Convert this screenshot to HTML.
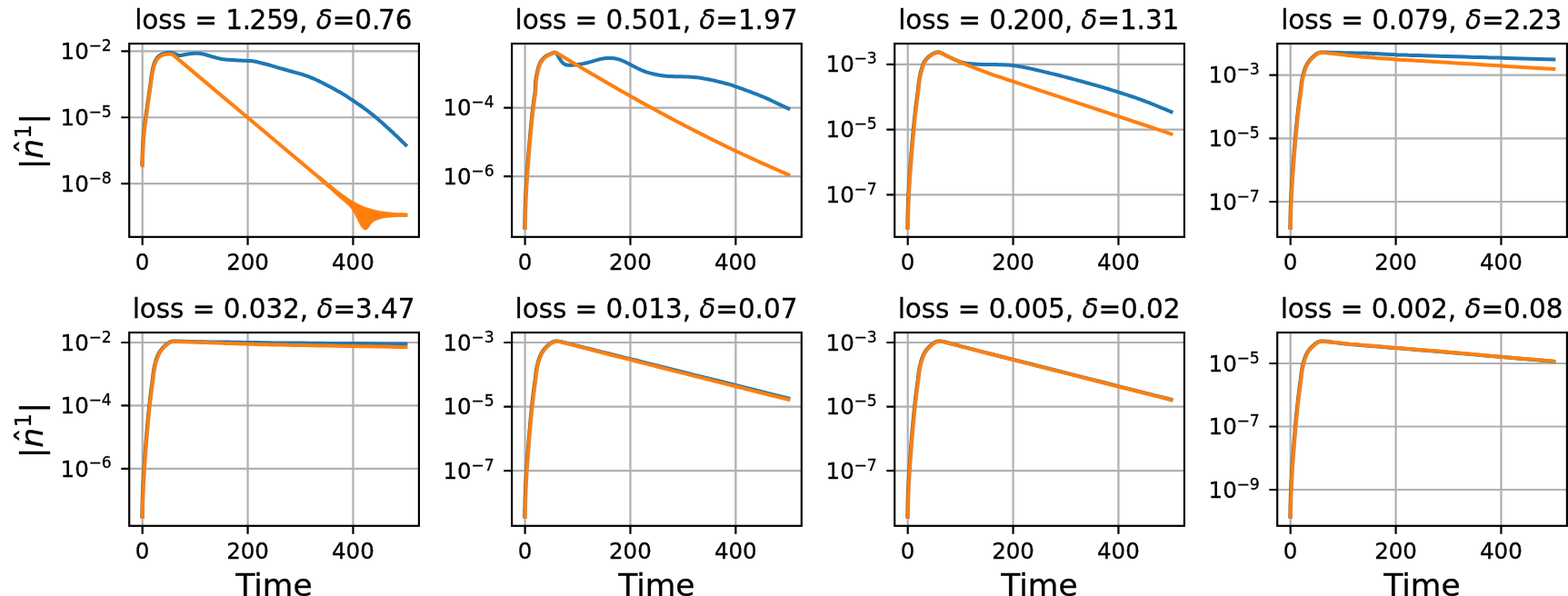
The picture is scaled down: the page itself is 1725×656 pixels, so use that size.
<!DOCTYPE html><html><head><meta charset="utf-8"><title>loss curves</title>
<style>html,body{margin:0;padding:0;background:#fff}svg{display:block}text{font-family:"DejaVu Sans","Liberation Sans",sans-serif;fill:#000;stroke:#000;stroke-width:0.3px}.t{font-size:24.5px}.s{font-size:17.2px}.ti{font-size:29.5px}.l{font-size:34.5px}.i{font-style:oblique}</style></head><body>
<svg width="1725" height="656" viewBox="0 0 1725 656">
<rect width="1725" height="656" fill="#fff"/>
<g>
<clipPath id="c0"><rect x="142.20" y="48.00" width="318.70" height="212.80"/></clipPath>
<path d="M156.69 48.00V260.80M272.57 48.00V260.80M388.45 48.00V260.80M142.20 56.30H460.90M142.20 129.25H460.90M142.20 202.20H460.90" stroke="#b0b0b0" stroke-width="2.2" fill="none"/>
<path d="M156.3 180.5L156.3 179.8L156.3 179.2L156.4 178.5L156.4 177.8L156.4 177.2L156.4 176.5L156.5 175.8L156.5 175.0L156.5 173.9L156.6 172.7L156.6 171.4L156.7 170.2L156.7 168.8L156.8 167.5L156.8 166.2L156.8 165.0L156.9 163.8L156.9 162.7L157.0 161.6L157.1 160.4L157.1 159.3L157.2 158.2L157.2 157.1L157.3 156.0L157.4 155.0L157.4 154.0L157.5 153.0L157.6 152.0L157.7 151.0L157.7 150.0L157.8 149.0L157.9 148.0L158.0 147.0L158.1 146.0L158.2 145.1L158.3 144.1L158.4 143.1L158.5 142.1L158.6 141.1L158.8 140.0L158.9 138.7L159.1 137.4L159.2 136.1L159.4 134.8L159.6 133.4L159.8 132.0L160.0 130.6L160.2 129.1L160.5 127.1L160.8 125.0L161.1 122.8L161.4 120.6L161.7 118.4L162.0 116.2L162.3 114.0L162.6 112.0L162.8 110.4L163.1 108.8L163.3 107.3L163.5 105.8L163.7 104.4L163.9 102.9L164.1 101.5L164.3 100.0L164.5 98.6L164.7 97.3L164.9 95.9L165.1 94.6L165.3 93.2L165.5 91.9L165.7 90.6L165.8 89.3L166.0 88.1L166.2 86.8L166.3 85.6L166.5 84.4L166.7 83.2L166.8 82.0L167.0 80.8L167.2 79.7L167.4 78.7L167.6 77.6L167.8 76.6L168.0 75.6L168.2 74.6L168.5 73.7L168.7 72.7L169.0 71.8L169.2 71.0L169.5 70.2L169.8 69.5L170.0 68.7L170.3 68.0L170.6 67.3L170.9 66.7L171.3 66.0L171.6 65.4L172.0 64.9L172.4 64.3L172.8 63.8L173.2 63.3L173.6 62.9L174.0 62.4L174.5 62.0L174.9 61.6L175.4 61.3L175.9 61.0L176.4 60.6L176.9 60.4L177.4 60.1L178.0 59.8L178.5 59.6L179.0 59.4L179.6 59.2L180.2 59.0L180.8 58.8L181.3 58.7L181.9 58.5L182.5 58.4L183.0 58.3L183.5 58.2L183.9 58.1L184.4 58.1L184.8 58.0L185.3 58.0L185.7 58.0L186.1 57.9L186.5 57.9L186.8 57.9L187.0 57.9L187.2 57.9L187.5 57.9L187.7 57.9L187.9 57.9L188.2 57.9L188.4 57.9L188.7 57.9L188.9 58.0L189.2 58.0L189.5 58.1L189.7 58.2L190.0 58.2L190.2 58.3L190.5 58.4L190.7 58.5L191.0 58.6L191.2 58.7L191.4 58.8L191.6 58.9L191.8 59.0L192.1 59.1L192.3 59.2L192.6 59.3L192.8 59.5L193.1 59.6L193.4 59.7L193.7 59.8L193.9 60.0L194.2 60.1L194.5 60.2L194.8 60.3L195.1 60.4L195.5 60.6L195.8 60.7L196.1 60.8L196.4 60.9L196.8 61.0L197.1 61.0L197.4 61.0L197.7 61.0L198.0 61.0L198.3 61.0L198.6 61.0L198.9 61.0L199.2 60.9L199.5 60.9L199.8 60.9L200.1 60.8L200.4 60.7L200.7 60.7L201.0 60.6L201.3 60.5L201.6 60.5L201.9 60.4L202.3 60.3L202.8 60.2L203.3 60.1L203.8 60.0L204.3 60.0L204.8 59.9L205.3 59.8L205.8 59.7L206.3 59.6L206.8 59.5L207.3 59.5L207.8 59.4L208.3 59.3L208.8 59.2L209.3 59.2L209.8 59.1L210.3 59.0L210.8 59.0L211.3 58.9L211.8 58.9L212.3 58.9L212.8 58.8L213.3 58.8L213.8 58.8L214.3 58.7L214.8 58.7L215.3 58.7L215.8 58.7L216.3 58.7L216.8 58.7L217.2 58.7L217.7 58.7L218.1 58.7L218.4 58.7L218.8 58.8L219.1 58.8L219.5 58.8L219.8 58.9L220.2 58.9L220.5 59.0L220.8 59.0L221.2 59.1L221.5 59.1L221.9 59.2L222.2 59.3L222.6 59.3L222.9 59.4L223.3 59.5L223.7 59.6L224.2 59.7L224.6 59.8L225.0 59.9L225.5 60.0L225.9 60.2L226.4 60.3L226.8 60.4L227.2 60.5L227.7 60.7L228.2 60.8L228.6 60.9L229.1 61.1L229.5 61.2L229.9 61.4L230.4 61.5L230.8 61.6L231.3 61.8L231.8 61.9L232.2 62.0L232.7 62.2L233.1 62.3L233.6 62.4L234.0 62.5L234.4 62.7L234.9 62.8L235.3 62.9L235.8 63.0L236.2 63.1L236.7 63.3L237.2 63.4L237.6 63.5L238.1 63.6L238.5 63.7L238.9 63.9L239.4 64.0L239.8 64.1L240.3 64.2L240.8 64.3L241.2 64.4L241.6 64.5L242.1 64.6L242.5 64.7L242.9 64.8L243.4 64.9L243.8 65.0L244.2 65.0L244.7 65.1L245.2 65.2L245.7 65.2L246.3 65.3L246.8 65.4L247.4 65.4L247.9 65.5L248.4 65.5L249.0 65.6L249.6 65.7L250.1 65.7L250.6 65.7L251.2 65.8L251.7 65.8L252.3 65.8L252.9 65.9L253.5 65.9L254.4 66.0L255.3 66.0L256.3 66.1L257.3 66.2L258.3 66.2L259.4 66.3L260.4 66.3L261.4 66.4L262.4 66.5L263.4 66.5L264.4 66.6L265.4 66.6L266.4 66.7L267.4 66.7L268.4 66.8L269.3 66.8L270.1 66.8L271.0 66.8L271.8 66.9L272.6 66.9L273.4 66.9L274.1 66.9L274.9 66.9L275.7 67.0L276.4 67.1L277.1 67.1L277.8 67.2L278.4 67.3L279.1 67.4L279.8 67.5L280.5 67.7L281.2 67.8L282.1 68.0L283.1 68.2L284.1 68.5L285.1 68.7L286.1 69.0L287.2 69.3L288.2 69.5L289.2 69.8L290.2 70.0L291.2 70.3L292.2 70.5L293.2 70.8L294.1 71.0L295.1 71.3L296.1 71.5L297.1 71.8L298.1 72.1L299.0 72.4L300.0 72.7L300.9 73.0L301.9 73.2L302.9 73.6L303.9 73.9L305.0 74.2L306.5 74.6L308.1 75.1L309.7 75.5L311.4 76.0L313.1 76.5L314.8 77.0L316.6 77.5L318.3 78.0L320.3 78.5L322.4 79.1L324.5 79.7L326.6 80.3L328.7 80.8L330.8 81.4L332.8 82.0L334.6 82.6L335.9 83.0L337.2 83.5L338.4 83.9L339.6 84.4L340.8 84.8L342.0 85.3L343.2 85.8L344.4 86.3L345.8 86.9L347.2 87.5L348.6 88.2L350.1 88.9L351.5 89.6L352.9 90.3L354.4 91.0L355.8 91.7L357.2 92.4L358.7 93.2L360.1 93.9L361.6 94.7L363.0 95.5L364.4 96.2L365.9 97.0L367.3 97.8L368.7 98.6L370.2 99.4L371.6 100.2L373.1 101.0L374.5 101.8L375.9 102.6L377.3 103.5L378.7 104.3L380.0 105.1L381.2 105.9L382.4 106.7L383.6 107.5L384.8 108.3L386.0 109.1L387.2 110.0L388.5 110.8L389.9 111.7L391.3 112.7L392.7 113.6L394.1 114.6L395.6 115.5L397.0 116.5L398.4 117.5L399.9 118.6L401.5 119.8L403.1 121.0L404.7 122.2L406.4 123.5L408.0 124.8L409.7 126.1L411.3 127.4L412.9 128.7L414.6 130.1L416.2 131.5L417.8 132.9L419.4 134.3L421.1 135.7L422.7 137.2L424.3 138.7L426.0 140.2L427.9 141.9L429.8 143.7L431.8 145.5L433.7 147.4L435.7 149.2L437.5 150.9L439.2 152.6L440.7 154.0L441.5 154.8L442.3 155.6L443.0 156.3L443.7 156.9L444.4 157.6L445.0 158.3L445.7 158.9L446.4 159.6" stroke="#1f77b4" stroke-width="4.0" fill="none" stroke-linejoin="round" stroke-linecap="square" clip-path="url(#c0)"/>
<path d="M156.8 182.3L156.8 181.4L156.8 180.5L156.9 179.6L156.9 178.7L156.9 177.8L156.9 176.9L157.0 176.0L157.0 175.0L157.0 173.8L157.1 172.6L157.1 171.3L157.2 170.1L157.2 168.8L157.3 167.5L157.3 166.2L157.4 165.0L157.5 163.8L157.5 162.7L157.6 161.6L157.6 160.4L157.7 159.3L157.8 158.2L157.8 157.1L157.9 156.0L158.0 155.0L158.0 154.0L158.1 153.0L158.2 152.0L158.2 151.0L158.3 150.0L158.4 149.0L158.5 148.0L158.6 147.0L158.7 146.0L158.8 145.1L158.9 144.1L159.0 143.1L159.1 142.1L159.2 141.1L159.3 140.0L159.5 138.7L159.7 137.4L159.8 136.1L160.0 134.8L160.2 133.4L160.4 132.0L160.6 130.6L160.8 129.1L161.1 127.1L161.4 125.0L161.7 122.8L162.0 120.6L162.3 118.4L162.6 116.2L162.9 114.0L163.2 112.0L163.4 110.4L163.7 108.8L163.9 107.3L164.1 105.8L164.3 104.4L164.5 102.9L164.7 101.5L164.9 100.0L165.1 98.6L165.3 97.3L165.5 95.9L165.7 94.6L165.9 93.2L166.1 91.9L166.3 90.6L166.4 89.3L166.6 88.1L166.8 86.8L167.0 85.6L167.1 84.4L167.3 83.2L167.5 82.0L167.7 80.8L167.9 79.7L168.1 78.7L168.3 77.6L168.5 76.6L168.8 75.6L169.0 74.6L169.2 73.6L169.5 72.7L169.8 71.8L170.1 71.0L170.3 70.3L170.6 69.6L170.9 68.9L171.2 68.2L171.5 67.5L171.8 66.9L172.2 66.3L172.6 65.8L172.9 65.3L173.3 64.8L173.7 64.3L174.1 63.9L174.5 63.5L174.9 63.1L175.4 62.7L175.8 62.4L176.3 62.0L176.8 61.7L177.3 61.4L177.8 61.2L178.3 60.9L178.9 60.7L179.4 60.5L180.0 60.3L180.5 60.2L181.1 60.1L181.7 60.0L182.3 59.9L182.9 59.8L183.5 59.8L184.1 59.7L184.6 59.7L185.1 59.6L185.6 59.6L186.1 59.6L186.6 59.6L187.0 59.6L187.5 59.6L188.0 59.5L189.4 59.7L190.3 60.2L191.0 60.9L361.5 204.3L380.4 220.2L380.4 220.2L381.4 221.0L382.3 221.7L383.3 222.5L384.2 223.3L385.2 224.0L386.1 224.8L387.1 225.5L388.0 226.2L388.8 226.8L389.6 227.4L390.4 227.9L391.2 228.5L392.1 229.0L392.9 229.5L393.7 230.0L394.5 230.5L395.3 230.9L396.1 231.4L396.9 231.8L397.7 232.2L398.5 232.5L399.4 232.9L400.2 233.2L401.1 233.5L402.1 233.8L403.2 234.0L404.3 234.2L405.4 234.4L406.6 234.6L407.7 234.7L408.9 234.9L410.0 235.0L411.2 235.2L412.5 235.3L413.7 235.4L415.0 235.5L416.2 235.6L417.5 235.7L418.7 235.8L420.0 235.9L421.2 236.0L422.5 236.0L423.8 236.1L425.0 236.1L426.2 236.2L427.5 236.2L428.8 236.3L430.0 236.3L431.3 236.3L432.6 236.4L433.9 236.4L435.1 236.4L436.4 236.4L437.7 236.5L438.9 236.5L440.0 236.5L440.9 236.5L441.7 236.5L442.5 236.6L443.3 236.6L444.1 236.6L444.8 236.6L445.6 236.6L446.4 236.7" stroke="#ff7f0e" stroke-width="4.0" fill="none" stroke-linejoin="round" stroke-linecap="square" clip-path="url(#c0)"/>
<path d="M352.0 193.7L354.4 195.7L356.7 197.7L359.1 199.7L361.5 201.7L363.8 203.6L366.2 205.5L368.5 207.4L370.9 209.2L373.3 211.0L375.7 212.9L378.1 214.6L380.4 216.3L382.3 217.7L384.2 218.9L386.1 220.2L387.9 221.3L389.6 222.3L391.2 223.1L392.8 224.0L394.5 224.8L396.1 225.6L397.8 226.3L399.4 227.0L401.1 227.7L402.9 228.4L404.8 229.0L406.7 229.6L408.7 230.2L411.0 230.8L413.4 231.4L415.8 231.9L418.2 232.4L420.5 232.8L422.9 233.1L425.2 233.3L427.6 233.6L430.0 233.9L432.3 234.2L434.7 234.4L437.1 234.6L439.8 234.7L442.5 234.8L445.3 234.9L448.0 235.0L448.0 238.4L445.3 238.4L442.5 238.5L439.8 238.5L437.1 238.6L434.7 238.7L432.2 238.9L429.9 239.1L427.6 239.3L425.6 239.5L423.7 239.8L421.9 240.0L420.1 240.4L418.6 240.8L417.1 241.3L415.7 241.8L414.4 242.3L413.4 242.7L412.4 243.2L411.5 243.6L410.6 244.2L409.8 244.8L409.1 245.5L408.5 246.2L407.8 247.0L407.1 248.1L406.4 249.2L405.7 250.4L404.9 251.3L404.1 251.9L403.3 252.5L402.4 252.9L401.6 253.0L400.7 252.8L399.9 252.3L399.1 251.6L398.3 250.8L397.5 249.8L396.8 248.6L396.2 247.4L395.5 246.1L394.8 244.7L394.0 243.3L393.3 241.8L392.6 240.4L391.9 239.0L391.2 237.6L390.6 236.2L389.8 234.8L388.9 233.4L388.0 231.9L387.1 230.5L386.0 229.1L384.8 227.7L383.4 226.3L382.0 224.9L380.4 223.4L378.2 221.5L375.8 219.5L373.3 217.5L370.9 215.4L368.5 213.3L366.2 211.2L363.9 209.0L361.5 206.9L359.1 204.9L356.8 202.9L354.4 200.9L352.0 198.9Z" fill="#ff7f0e" stroke="#ff7f0e" stroke-width="0.6" stroke-linejoin="round" clip-path="url(#c0)"/>
<path d="M156.69 260.80v8.90M272.57 260.80v8.90M388.45 260.80v8.90M142.20 56.30h-8.90M142.20 129.25h-8.90M142.20 202.20h-8.90" stroke="#000" stroke-width="2.2" fill="none"/>
<rect x="142.20" y="48.00" width="318.70" height="212.80" fill="none" stroke="#000" stroke-width="2.2"/>
<text class="t" x="156.64" y="296.85" text-anchor="middle">0</text>
<text class="t" x="272.52" y="296.85" text-anchor="middle">200</text>
<text class="t" x="388.40" y="296.85" text-anchor="middle">400</text>
<text class="t" x="66.60" y="64.90">10</text>
<text class="s" x="97.40" y="55.80">−2</text>
<text class="t" x="66.60" y="137.85">10</text>
<text class="s" x="97.40" y="128.75">−5</text>
<text class="t" x="66.60" y="210.80">10</text>
<text class="s" x="97.40" y="201.70">−8</text>
<text class="ti" y="31.50" xml:space="preserve"><tspan x="148.13 156.29 174.26 189.57 204.87 214.21 238.82 248.16 266.85 274.56 293.25 310.32 329.00 338.34">loss = 1.259, </tspan><tspan class="i" x="347.68">δ</tspan><tspan x="365.65 390.26 408.95 416.04 434.73">=0.76</tspan></text>
<g transform="translate(46.55 186.20) rotate(-90)"><text class="l" y="0"><tspan x="0">|</tspan><tspan class="i" x="11.55">n</tspan><tspan x="33.6" y="-12.35" style="font-size:24.2px">1</tspan><tspan x="49.8" y="0">|</tspan></text><text class="l" x="16.1" y="-4.3">ˆ</text></g>
</g>
<g>
<clipPath id="c1"><rect x="563.10" y="48.00" width="318.70" height="212.80"/></clipPath>
<path d="M577.59 48.00V260.80M693.47 48.00V260.80M809.35 48.00V260.80M563.10 118.60H881.80M563.10 194.20H881.80" stroke="#b0b0b0" stroke-width="2.2" fill="none"/>
<path d="M577.2 250.6L577.2 248.7L577.3 246.8L577.3 244.9L577.3 243.0L577.4 241.1L577.4 239.2L577.5 237.3L577.5 235.4L577.5 233.4L577.6 231.5L577.7 229.5L577.7 227.5L577.8 225.5L577.9 223.6L578.0 221.6L578.0 219.6L578.1 217.6L578.2 215.6L578.3 213.6L578.5 211.6L578.6 209.6L578.7 207.6L578.8 205.6L578.9 203.7L579.0 202.0L579.1 200.3L579.2 198.6L579.3 196.9L579.4 195.2L579.5 193.7L579.6 192.1L579.8 190.7L579.8 189.7L579.9 188.8L580.0 187.9L580.0 187.1L580.1 186.2L580.1 185.4L580.2 184.4L580.3 183.4L580.4 181.7L580.6 179.9L580.7 177.9L580.9 175.9L581.0 173.8L581.2 171.7L581.3 169.6L581.5 167.6L581.7 165.6L581.8 163.6L582.0 161.6L582.2 159.5L582.3 157.5L582.5 155.5L582.7 153.6L582.9 151.7L583.0 150.1L583.1 148.5L583.3 146.9L583.4 145.3L583.6 143.8L583.7 142.3L583.9 140.8L584.0 139.4L584.1 138.1L584.2 136.9L584.4 135.7L584.5 134.5L584.6 133.3L584.7 132.1L584.8 131.0L585.0 129.9L585.0 129.1L585.1 128.3L585.2 127.5L585.3 126.7L585.4 126.0L585.5 125.2L585.5 124.4L585.6 123.5L585.8 122.2L586.0 120.8L586.1 119.3L586.3 117.8L586.5 116.2L586.7 114.7L586.9 113.1L587.1 111.6L587.3 110.1L587.5 108.6L587.7 107.1L588.0 105.6L588.2 104.1L588.4 102.7L588.6 101.2L588.7 99.8L588.8 98.6L588.8 97.4L588.9 96.2L588.9 95.1L588.9 94.0L589.0 92.8L589.0 91.7L589.1 90.6L589.2 89.6L589.3 88.5L589.5 87.5L589.6 86.5L589.8 85.5L590.0 84.5L590.1 83.6L590.3 82.6L590.5 81.7L590.7 80.8L590.8 79.9L591.0 79.0L591.2 78.1L591.5 77.2L591.7 76.3L591.9 75.5L592.1 74.8L592.3 74.0L592.5 73.3L592.8 72.6L593.0 71.9L593.2 71.2L593.5 70.5L593.8 69.9L594.1 69.3L594.4 68.7L594.8 68.2L595.1 67.6L595.5 67.1L595.8 66.6L596.2 66.1L596.6 65.6L597.0 65.2L597.3 64.7L597.7 64.3L598.1 63.9L598.5 63.5L598.9 63.1L599.4 62.8L599.8 62.4L600.3 62.0L600.7 61.7L601.2 61.4L601.8 61.1L602.3 60.8L602.8 60.5L603.3 60.3L603.8 60.0L604.3 59.8L604.8 59.5L605.3 59.4L605.7 59.2L606.2 59.0L606.7 58.8L607.2 58.6L607.7 58.4L609.3 58.0L609.5 57.9L609.6 57.9L609.8 57.8L610.0 57.7L610.2 57.7L610.4 57.6L610.5 57.6L610.7 57.6L610.9 57.6L611.1 57.7L611.3 57.8L611.5 57.9L611.6 58.1L611.8 58.2L612.0 58.4L612.2 58.6L612.5 59.0L612.8 59.5L613.1 60.0L613.4 60.6L613.7 61.3L614.0 61.9L614.4 62.5L614.7 63.1L615.1 63.7L615.5 64.3L615.8 64.9L616.2 65.5L616.6 66.2L617.0 66.7L617.5 67.3L617.9 67.8L618.3 68.2L618.6 68.6L619.0 69.0L619.4 69.4L619.7 69.7L620.1 70.0L620.5 70.3L621.0 70.6L621.5 70.8L622.1 71.1L622.7 71.3L623.3 71.4L623.9 71.5L624.5 71.7L625.1 71.7L625.8 71.8L626.5 71.8L627.3 71.8L628.1 71.8L628.9 71.7L629.7 71.7L630.5 71.6L631.3 71.5L632.1 71.4L632.9 71.3L633.7 71.2L634.5 71.2L635.3 71.1L636.0 71.0L636.9 70.8L637.7 70.7L638.5 70.6L639.5 70.4L640.4 70.3L641.4 70.1L642.4 69.9L643.4 69.7L644.4 69.5L645.4 69.2L646.4 69.0L647.4 68.7L648.4 68.5L649.4 68.2L650.4 67.9L651.4 67.6L652.4 67.3L653.4 67.0L654.4 66.7L655.4 66.4L656.4 66.2L657.4 65.9L658.3 65.6L659.3 65.3L660.3 65.1L661.3 64.9L662.3 64.7L663.3 64.5L664.3 64.4L665.2 64.2L666.2 64.1L667.2 64.0L668.2 64.0L669.2 63.9L670.2 63.9L671.2 63.9L672.2 63.9L673.2 64.0L674.2 64.1L675.2 64.2L676.2 64.3L677.2 64.5L678.2 64.7L679.2 64.9L680.2 65.2L681.2 65.5L682.2 65.9L683.2 66.2L684.1 66.6L685.1 67.0L686.1 67.4L687.1 67.8L688.1 68.3L689.0 68.8L690.0 69.3L691.0 69.8L691.9 70.3L693.0 70.9L694.0 71.4L695.3 72.1L696.7 72.8L698.1 73.5L699.6 74.3L701.0 75.0L702.5 75.7L703.9 76.4L705.2 77.0L706.2 77.4L707.2 77.8L708.2 78.2L709.2 78.6L710.1 78.9L711.1 79.3L712.1 79.6L713.1 79.9L714.3 80.2L715.5 80.6L716.8 80.9L718.0 81.2L719.3 81.5L720.6 81.8L721.8 82.0L723.0 82.3L724.0 82.5L725.1 82.7L726.1 82.9L727.1 83.0L728.0 83.2L729.1 83.3L730.1 83.5L731.2 83.6L732.5 83.7L733.9 83.8L735.3 83.9L736.7 84.0L738.2 84.0L739.6 84.1L741.1 84.2L742.6 84.2L744.2 84.2L745.8 84.3L747.4 84.3L749.0 84.3L750.7 84.3L752.3 84.4L754.0 84.4L755.6 84.5L757.2 84.6L758.9 84.7L760.5 84.8L762.2 84.9L763.9 85.0L765.5 85.2L767.1 85.3L768.7 85.5L770.2 85.7L771.6 85.9L773.0 86.2L774.5 86.4L775.9 86.7L777.3 86.9L778.7 87.2L780.1 87.5L781.5 87.8L782.9 88.1L784.4 88.4L785.8 88.7L787.2 89.0L788.6 89.4L790.0 89.7L791.5 90.1L793.1 90.5L794.7 90.9L796.4 91.3L798.0 91.8L799.7 92.2L801.3 92.7L803.0 93.2L804.6 93.7L806.2 94.2L807.9 94.8L809.5 95.3L811.1 95.9L812.7 96.5L814.4 97.0L816.0 97.6L817.6 98.2L819.2 98.8L820.9 99.4L822.5 100.0L824.2 100.6L825.8 101.2L827.4 101.8L829.1 102.5L830.7 103.1L832.3 103.7L834.0 104.4L835.6 105.0L837.2 105.7L838.8 106.3L840.5 107.0L842.1 107.7L843.7 108.4L845.4 109.1L847.0 109.9L848.7 110.7L850.3 111.5L852.0 112.3L853.6 113.1L855.2 113.8L856.8 114.6L858.2 115.2L859.5 115.9L860.9 116.5L862.2 117.1L863.5 117.8L864.8 118.4L866.1 119.0L867.4 119.6" stroke="#1f77b4" stroke-width="4.0" fill="none" stroke-linejoin="round" stroke-linecap="square" clip-path="url(#c1)"/>
<path d="M577.8 250.9L577.8 249.0L577.9 247.1L577.9 245.2L577.9 243.3L578.0 241.4L578.0 239.5L578.0 237.6L578.1 235.7L578.1 233.7L578.2 231.8L578.3 229.8L578.3 227.8L578.4 225.8L578.5 223.9L578.6 221.9L578.6 219.9L578.7 217.9L578.8 215.9L578.9 213.9L579.0 211.8L579.2 209.8L579.3 207.9L579.4 205.9L579.5 204.0L579.6 202.3L579.7 200.6L579.8 198.9L579.9 197.2L580.0 195.5L580.1 194.0L580.2 192.4L580.4 191.0L580.4 190.0L580.5 189.1L580.5 188.2L580.6 187.4L580.7 186.6L580.8 185.7L580.8 184.7L580.9 183.7L581.0 182.0L581.2 180.2L581.3 178.2L581.5 176.2L581.6 174.1L581.8 172.0L581.9 169.9L582.1 167.9L582.3 165.9L582.4 163.9L582.6 161.8L582.8 159.8L582.9 157.8L583.1 155.8L583.3 153.9L583.5 152.0L583.6 150.4L583.7 148.8L583.9 147.2L584.0 145.7L584.2 144.1L584.3 142.6L584.5 141.2L584.6 139.7L584.7 138.4L584.8 137.2L585.0 136.0L585.1 134.8L585.2 133.6L585.3 132.4L585.4 131.3L585.5 130.2L585.6 129.3L585.7 128.6L585.8 127.8L585.9 127.0L586.0 126.3L586.1 125.5L586.1 124.7L586.2 123.8L586.4 122.5L586.6 121.1L586.8 119.6L586.9 118.1L587.1 116.5L587.3 115.0L587.5 113.4L587.7 111.9L587.9 110.4L588.1 108.9L588.3 107.4L588.6 105.9L588.8 104.4L589.0 103.0L589.2 101.5L589.3 100.1L589.4 98.9L589.4 97.7L589.5 96.5L589.5 95.4L589.5 94.2L589.6 93.1L589.6 92.0L589.7 90.9L589.8 89.9L589.9 88.8L590.1 87.8L590.2 86.8L590.4 85.8L590.5 84.8L590.7 83.9L590.9 82.9L591.1 82.0L591.3 81.1L591.4 80.2L591.6 79.3L591.8 78.4L592.0 77.5L592.3 76.6L592.5 75.8L592.7 75.1L592.9 74.3L593.1 73.6L593.4 72.9L593.6 72.2L593.8 71.5L594.1 70.8L594.4 70.2L594.7 69.6L595.0 69.0L595.4 68.5L595.7 67.9L596.1 67.4L596.4 66.9L596.8 66.4L597.2 65.9L597.6 65.5L597.9 65.0L598.3 64.6L598.7 64.2L599.1 63.8L599.5 63.4L600.0 63.0L600.4 62.7L600.9 62.4L601.3 62.0L601.8 61.7L602.4 61.4L602.9 61.1L603.4 60.8L603.9 60.6L604.4 60.3L604.9 60.1L605.4 59.9L605.9 59.6L606.3 59.5L606.8 59.3L607.3 59.1L607.8 58.9L608.3 58.7L610.2 58.2L611.6 58.0L612.8 58.3L614.3 59.4L616.3 60.5L622.3 64.2L628.3 67.8L634.3 71.4L640.3 74.9L646.3 78.5L652.3 82.0L658.3 85.5L664.3 89.0L670.3 92.5L676.3 95.9L682.3 99.4L688.3 102.8L694.3 106.2L700.3 109.5L706.3 112.9L712.3 116.2L718.3 119.5L724.3 122.7L730.3 126.0L736.3 129.2L742.3 132.4L748.3 135.6L754.3 138.7L760.3 141.8L766.3 144.9L772.3 147.9L778.3 151.0L784.3 154.0L790.3 156.9L796.3 159.9L802.3 162.8L808.3 165.7L814.3 168.5L820.3 171.3L826.3 174.1L832.3 176.8L838.3 179.6L844.3 182.2L850.3 184.9L856.3 187.5L862.3 190.1L867.4 192.3" stroke="#ff7f0e" stroke-width="4.0" fill="none" stroke-linejoin="round" stroke-linecap="square" clip-path="url(#c1)"/>
<path d="M577.59 260.80v8.90M693.47 260.80v8.90M809.35 260.80v8.90M563.10 118.60h-8.90M563.10 194.20h-8.90" stroke="#000" stroke-width="2.2" fill="none"/>
<rect x="563.10" y="48.00" width="318.70" height="212.80" fill="none" stroke="#000" stroke-width="2.2"/>
<text class="t" x="577.54" y="296.85" text-anchor="middle">0</text>
<text class="t" x="693.42" y="296.85" text-anchor="middle">200</text>
<text class="t" x="809.30" y="296.85" text-anchor="middle">400</text>
<text class="t" x="487.50" y="127.20">10</text>
<text class="s" x="518.30" y="118.10">−4</text>
<text class="t" x="487.50" y="202.80">10</text>
<text class="s" x="518.30" y="193.70">−6</text>
<text class="ti" y="31.50" xml:space="preserve"><tspan x="566.53 574.69 592.66 607.97 623.27 632.61 657.22 666.56 685.25 694.59 713.28 731.97 750.65 759.99">loss = 0.501, </tspan><tspan class="i" x="769.33">δ</tspan><tspan x="787.30 811.91 830.60 839.94 858.63">=1.97</tspan></text>
</g>
<g>
<clipPath id="c2"><rect x="984.20" y="48.00" width="318.70" height="212.80"/></clipPath>
<path d="M998.69 48.00V260.80M1114.57 48.00V260.80M1230.45 48.00V260.80M984.20 70.85H1302.90M984.20 142.60H1302.90M984.20 214.40H1302.90" stroke="#b0b0b0" stroke-width="2.2" fill="none"/>
<path d="M998.3 250.6L998.3 248.7L998.4 246.8L998.4 244.9L998.4 243.0L998.5 241.1L998.5 239.2L998.5 237.3L998.6 235.4L998.6 233.4L998.7 231.5L998.8 229.5L998.8 227.5L998.9 225.5L999.0 223.6L999.1 221.6L999.1 219.6L999.2 217.6L999.3 215.6L999.4 213.6L999.5 211.6L999.7 209.6L999.8 207.6L999.9 205.6L1000.0 203.7L1000.1 202.0L1000.2 200.3L1000.3 198.6L1000.4 196.9L1000.5 195.2L1000.6 193.7L1000.8 192.1L1000.9 190.7L1000.9 189.7L1001.0 188.8L1001.0 187.9L1001.1 187.1L1001.2 186.2L1001.2 185.4L1001.3 184.4L1001.4 183.4L1001.5 181.7L1001.7 179.9L1001.8 177.9L1002.0 175.9L1002.1 173.8L1002.3 171.7L1002.4 169.6L1002.6 167.6L1002.8 165.6L1002.9 163.6L1003.1 161.6L1003.3 159.5L1003.4 157.5L1003.6 155.5L1003.8 153.6L1004.0 151.7L1004.1 150.1L1004.2 148.5L1004.4 146.9L1004.5 145.3L1004.7 143.8L1004.8 142.3L1005.0 140.8L1005.1 139.4L1005.2 138.1L1005.3 136.9L1005.5 135.7L1005.6 134.5L1005.7 133.3L1005.8 132.1L1005.9 131.0L1006.0 129.9L1006.1 129.1L1006.2 128.3L1006.3 127.5L1006.4 126.7L1006.5 126.0L1006.6 125.2L1006.6 124.4L1006.8 123.5L1006.9 122.2L1007.1 120.8L1007.2 119.3L1007.4 117.8L1007.6 116.2L1007.8 114.7L1008.0 113.1L1008.2 111.6L1008.4 110.1L1008.6 108.6L1008.8 107.1L1009.0 105.6L1009.2 104.1L1009.4 102.7L1009.6 101.2L1009.8 99.8L1009.9 98.6L1010.1 97.4L1010.2 96.2L1010.3 95.1L1010.4 94.0L1010.5 92.8L1010.7 91.7L1010.8 90.6L1010.9 89.6L1011.1 88.5L1011.2 87.5L1011.4 86.5L1011.5 85.5L1011.7 84.5L1011.9 83.6L1012.1 82.6L1012.3 81.7L1012.5 80.8L1012.7 79.9L1013.0 79.0L1013.2 78.1L1013.5 77.2L1013.7 76.4L1014.0 75.5L1014.3 74.7L1014.5 73.8L1014.8 73.0L1015.1 72.2L1015.3 71.4L1015.6 70.6L1016.0 69.8L1016.3 69.1L1016.6 68.5L1016.9 67.9L1017.2 67.4L1017.6 66.8L1017.9 66.3L1018.3 65.8L1018.7 65.3L1019.1 64.8L1019.5 64.3L1020.0 63.8L1020.5 63.3L1021.0 62.9L1021.5 62.4L1022.0 62.0L1022.6 61.6L1023.1 61.2L1023.6 60.9L1024.1 60.5L1024.6 60.2L1025.1 59.9L1025.6 59.6L1026.1 59.3L1026.6 59.0L1027.1 58.8L1027.5 58.6L1027.9 58.5L1028.3 58.3L1028.7 58.1L1029.0 58.0L1029.4 57.9L1029.8 57.7L1030.2 57.6L1032.3 57.4L1033.2 57.3L1034.2 57.8L1039.6 60.4L1040.4 60.8L1041.1 61.2L1041.9 61.6L1042.7 62.0L1043.4 62.4L1044.2 62.8L1045.0 63.2L1045.9 63.6L1047.1 64.1L1048.3 64.7L1049.6 65.3L1051.0 65.9L1052.3 66.5L1053.6 67.0L1054.8 67.5L1056.0 67.9L1056.8 68.2L1057.6 68.4L1058.3 68.6L1059.0 68.8L1059.8 69.0L1060.5 69.2L1061.2 69.3L1062.0 69.5L1062.9 69.7L1063.8 69.8L1064.8 69.9L1065.8 70.0L1066.8 70.1L1067.7 70.2L1068.7 70.2L1069.7 70.3L1070.7 70.4L1071.7 70.5L1072.7 70.5L1073.6 70.6L1074.6 70.7L1075.6 70.7L1076.6 70.8L1077.6 70.8L1078.6 70.8L1079.6 70.9L1080.6 70.9L1081.6 70.9L1082.6 71.0L1083.6 71.0L1084.6 71.0L1085.6 71.0L1086.6 71.0L1087.6 71.0L1088.6 71.0L1089.5 71.0L1090.5 71.1L1091.5 71.1L1092.5 71.1L1093.5 71.1L1094.5 71.1L1095.5 71.1L1096.5 71.1L1097.5 71.2L1098.4 71.2L1099.4 71.2L1100.4 71.2L1101.4 71.2L1102.4 71.3L1103.4 71.3L1104.4 71.3L1105.4 71.4L1106.4 71.4L1107.4 71.5L1108.4 71.5L1109.4 71.6L1110.4 71.7L1111.4 71.8L1112.4 71.8L1113.4 71.9L1114.3 72.0L1115.3 72.2L1116.3 72.3L1117.3 72.4L1118.3 72.5L1119.3 72.7L1120.3 72.9L1121.2 73.0L1122.2 73.2L1123.2 73.4L1124.2 73.6L1125.2 73.8L1126.2 74.0L1127.2 74.2L1128.2 74.4L1129.2 74.6L1130.2 74.8L1131.2 75.0L1132.2 75.2L1133.2 75.4L1134.2 75.6L1135.2 75.8L1136.2 76.1L1137.2 76.3L1138.1 76.5L1139.1 76.7L1140.1 77.0L1141.1 77.2L1142.1 77.4L1143.0 77.7L1144.0 77.9L1145.0 78.1L1145.9 78.4L1146.9 78.6L1148.0 78.8L1149.0 79.1L1150.3 79.4L1151.6 79.7L1153.0 80.0L1154.4 80.4L1155.8 80.7L1157.3 81.1L1158.8 81.4L1160.3 81.8L1162.2 82.3L1164.2 82.8L1166.2 83.3L1168.3 83.8L1170.4 84.4L1172.5 84.9L1174.5 85.5L1176.6 86.0L1178.6 86.5L1180.7 87.1L1182.7 87.6L1184.8 88.2L1186.8 88.7L1188.8 89.3L1190.9 89.8L1192.9 90.4L1195.0 91.0L1197.0 91.5L1199.0 92.1L1201.1 92.7L1203.2 93.2L1205.2 93.8L1207.2 94.4L1209.3 95.0L1211.3 95.6L1213.4 96.2L1215.4 96.8L1217.5 97.4L1219.5 98.0L1221.5 98.7L1223.6 99.3L1225.6 99.9L1227.6 100.5L1229.7 101.2L1231.7 101.8L1233.8 102.5L1235.8 103.1L1237.8 103.8L1239.9 104.4L1241.9 105.1L1243.9 105.8L1246.0 106.5L1248.0 107.2L1250.1 107.9L1252.1 108.6L1254.1 109.3L1256.2 110.0L1258.2 110.8L1260.2 111.6L1262.3 112.4L1264.4 113.2L1266.4 114.0L1268.5 114.8L1270.5 115.7L1272.5 116.5L1274.5 117.3L1276.3 118.0L1278.1 118.8L1279.8 119.5L1281.6 120.2L1283.3 120.9L1285.0 121.7L1286.8 122.4L1288.5 123.1" stroke="#1f77b4" stroke-width="4.0" fill="none" stroke-linejoin="round" stroke-linecap="square" clip-path="url(#c2)"/>
<path d="M998.9 250.9L998.9 249.0L999.0 247.1L999.0 245.2L999.0 243.3L999.1 241.4L999.1 239.5L999.1 237.6L999.2 235.7L999.2 233.7L999.3 231.8L999.4 229.8L999.4 227.8L999.5 225.8L999.6 223.9L999.7 221.9L999.8 219.9L999.8 217.9L999.9 215.9L1000.0 213.9L1000.1 211.8L1000.3 209.8L1000.4 207.9L1000.5 205.9L1000.6 204.0L1000.7 202.3L1000.8 200.6L1000.9 198.9L1001.0 197.2L1001.1 195.5L1001.2 194.0L1001.4 192.4L1001.5 191.0L1001.5 190.0L1001.6 189.1L1001.6 188.2L1001.7 187.4L1001.8 186.6L1001.9 185.7L1001.9 184.7L1002.0 183.7L1002.1 182.0L1002.3 180.2L1002.4 178.2L1002.6 176.2L1002.7 174.1L1002.9 172.0L1003.0 169.9L1003.2 167.9L1003.4 165.9L1003.5 163.9L1003.7 161.8L1003.9 159.8L1004.0 157.8L1004.2 155.8L1004.4 153.9L1004.5 152.0L1004.7 150.4L1004.8 148.8L1005.0 147.2L1005.1 145.7L1005.3 144.1L1005.4 142.6L1005.6 141.2L1005.7 139.7L1005.8 138.4L1005.9 137.2L1006.1 136.0L1006.2 134.8L1006.3 133.6L1006.4 132.4L1006.5 131.3L1006.6 130.2L1006.7 129.3L1006.8 128.6L1006.9 127.8L1007.0 127.0L1007.1 126.3L1007.2 125.5L1007.2 124.7L1007.4 123.8L1007.5 122.5L1007.7 121.1L1007.9 119.6L1008.0 118.1L1008.2 116.5L1008.4 115.0L1008.6 113.4L1008.8 111.9L1009.0 110.4L1009.2 108.9L1009.4 107.4L1009.6 105.9L1009.8 104.4L1010.0 103.0L1010.2 101.5L1010.4 100.1L1010.5 98.9L1010.7 97.7L1010.8 96.5L1010.9 95.4L1011.0 94.2L1011.1 93.1L1011.3 92.0L1011.4 90.9L1011.5 89.9L1011.7 88.8L1011.8 87.8L1012.0 86.8L1012.1 85.8L1012.3 84.8L1012.5 83.9L1012.7 82.9L1012.9 82.0L1013.1 81.1L1013.3 80.2L1013.6 79.3L1013.8 78.4L1014.1 77.5L1014.3 76.7L1014.6 75.8L1014.9 75.0L1015.1 74.1L1015.4 73.3L1015.7 72.5L1015.9 71.7L1016.2 70.9L1016.6 70.1L1016.9 69.4L1017.2 68.8L1017.5 68.2L1017.9 67.7L1018.2 67.1L1018.5 66.6L1018.9 66.1L1019.3 65.6L1019.7 65.1L1020.1 64.6L1020.6 64.1L1021.1 63.6L1021.6 63.2L1022.1 62.7L1022.6 62.3L1023.2 61.9L1023.7 61.5L1024.2 61.1L1024.7 60.8L1025.2 60.5L1025.7 60.2L1026.2 59.9L1026.7 59.6L1027.2 59.3L1027.7 59.1L1028.1 58.9L1028.5 58.8L1028.9 58.6L1029.3 58.5L1029.7 58.3L1030.0 58.2L1030.4 58.0L1030.8 57.9L1032.3 57.7L1033.2 57.6L1034.2 57.9L1039.6 60.4L1040.4 60.8L1041.2 61.2L1041.9 61.6L1042.7 62.0L1043.5 62.4L1044.3 62.8L1045.1 63.2L1045.9 63.6L1046.8 64.0L1047.7 64.5L1048.7 64.9L1049.6 65.4L1050.6 65.8L1051.6 66.2L1052.5 66.7L1053.5 67.1L1054.5 67.5L1055.5 68.0L1056.6 68.4L1057.6 68.8L1058.6 69.2L1059.7 69.7L1060.7 70.1L1061.7 70.5L1062.7 70.9L1063.7 71.3L1064.6 71.7L1065.6 72.1L1066.6 72.5L1067.5 72.8L1068.5 73.2L1069.5 73.6L1070.5 74.0L1071.5 74.4L1072.5 74.8L1073.5 75.2L1074.6 75.6L1075.6 76.0L1076.6 76.4L1077.6 76.8L1078.6 77.1L1079.6 77.5L1080.6 77.9L1081.5 78.3L1082.5 78.6L1083.5 79.0L1084.5 79.4L1085.5 79.8L1086.5 80.1L1087.4 80.5L1088.4 80.8L1089.3 81.2L1090.3 81.5L1091.3 81.9L1092.4 82.3L1093.5 82.7L1095.2 83.3L1097.1 83.9L1099.1 84.6L1101.2 85.2L1103.2 85.9L1105.3 86.6L1107.4 87.3L1109.4 88.0L1111.2 88.6L1113.1 89.2L1114.9 89.8L1116.7 90.4L1118.5 91.0L1120.4 91.6L1122.2 92.2L1124.0 92.8L1288.5 147.4" stroke="#ff7f0e" stroke-width="4.0" fill="none" stroke-linejoin="round" stroke-linecap="square" clip-path="url(#c2)"/>
<path d="M998.69 260.80v8.90M1114.57 260.80v8.90M1230.45 260.80v8.90M984.20 70.85h-8.90M984.20 142.60h-8.90M984.20 214.40h-8.90" stroke="#000" stroke-width="2.2" fill="none"/>
<rect x="984.20" y="48.00" width="318.70" height="212.80" fill="none" stroke="#000" stroke-width="2.2"/>
<text class="t" x="998.64" y="296.85" text-anchor="middle">0</text>
<text class="t" x="1114.52" y="296.85" text-anchor="middle">200</text>
<text class="t" x="1230.40" y="296.85" text-anchor="middle">400</text>
<text class="t" x="908.60" y="79.45">10</text>
<text class="s" x="939.40" y="70.35">−3</text>
<text class="t" x="908.60" y="151.20">10</text>
<text class="s" x="939.40" y="142.10">−5</text>
<text class="t" x="908.60" y="223.00">10</text>
<text class="s" x="939.40" y="213.90">−7</text>
<text class="ti" y="31.50" xml:space="preserve"><tspan x="988.13 996.29 1014.26 1029.57 1044.87 1054.21 1078.82 1088.16 1106.85 1114.56 1133.25 1151.94 1170.63 1179.97">loss = 0.200, </tspan><tspan class="i" x="1189.30">δ</tspan><tspan x="1207.28 1231.89 1250.58 1259.92 1278.61">=1.31</tspan></text>
</g>
<g>
<clipPath id="c3"><rect x="1405.20" y="48.00" width="318.70" height="212.80"/></clipPath>
<path d="M1419.69 48.00V260.80M1535.57 48.00V260.80M1651.45 48.00V260.80M1405.20 82.60H1723.90M1405.20 152.30H1723.90M1405.20 222.00H1723.90" stroke="#b0b0b0" stroke-width="2.2" fill="none"/>
<path d="M1419.3 250.6L1419.3 248.7L1419.4 246.8L1419.4 244.9L1419.4 243.0L1419.5 241.1L1419.5 239.2L1419.5 237.3L1419.6 235.4L1419.7 233.4L1419.7 231.5L1419.8 229.5L1419.8 227.5L1419.9 225.5L1420.0 223.6L1420.1 221.6L1420.2 219.6L1420.2 217.6L1420.3 215.6L1420.4 213.6L1420.5 211.6L1420.7 209.6L1420.8 207.6L1420.9 205.6L1421.0 203.7L1421.1 202.0L1421.2 200.3L1421.3 198.6L1421.4 196.9L1421.5 195.2L1421.7 193.7L1421.8 192.1L1421.8 190.7L1421.9 189.7L1422.0 188.8L1422.0 187.9L1422.1 187.1L1422.2 186.2L1422.2 185.4L1422.3 184.4L1422.4 183.4L1422.5 181.7L1422.7 179.9L1422.8 177.9L1423.0 175.9L1423.1 173.8L1423.3 171.7L1423.4 169.6L1423.6 167.6L1423.8 165.6L1423.9 163.6L1424.1 161.6L1424.3 159.5L1424.4 157.5L1424.6 155.5L1424.8 153.6L1425.0 151.7L1425.1 150.1L1425.2 148.5L1425.4 146.9L1425.5 145.3L1425.7 143.8L1425.8 142.3L1426.0 140.8L1426.1 139.4L1426.2 138.1L1426.3 136.9L1426.5 135.7L1426.6 134.5L1426.7 133.3L1426.8 132.1L1426.9 131.0L1427.0 129.9L1427.1 129.1L1427.2 128.3L1427.3 127.5L1427.4 126.7L1427.5 126.0L1427.6 125.2L1427.7 124.4L1427.8 123.5L1427.9 122.2L1428.1 120.8L1428.2 119.3L1428.4 117.8L1428.6 116.2L1428.8 114.7L1429.0 113.1L1429.2 111.6L1429.4 110.1L1429.6 108.6L1429.8 107.1L1430.0 105.6L1430.2 104.1L1430.4 102.7L1430.6 101.2L1430.8 99.8L1431.0 98.6L1431.1 97.4L1431.2 96.2L1431.3 95.1L1431.5 94.0L1431.6 92.8L1431.7 91.7L1431.9 90.6L1432.1 89.6L1432.2 88.5L1432.4 87.5L1432.6 86.5L1432.8 85.5L1433.0 84.5L1433.3 83.6L1433.5 82.6L1433.7 81.7L1434.0 80.8L1434.2 79.8L1434.5 79.0L1434.7 78.1L1435.0 77.2L1435.3 76.3L1435.6 75.5L1435.9 74.8L1436.2 74.1L1436.5 73.4L1436.8 72.7L1437.1 72.0L1437.4 71.4L1437.7 70.7L1438.1 70.1L1438.5 69.5L1438.8 68.9L1439.2 68.3L1439.7 67.8L1440.1 67.2L1440.5 66.7L1441.0 66.1L1441.4 65.6L1441.9 65.1L1442.3 64.5L1442.8 64.0L1443.3 63.5L1443.9 63.0L1444.4 62.5L1444.9 62.0L1445.4 61.6L1445.9 61.2L1446.3 60.8L1446.8 60.4L1447.3 60.0L1447.8 59.7L1448.2 59.4L1448.7 59.1L1449.2 58.8L1449.6 58.6L1450.0 58.4L1450.4 58.3L1450.8 58.1L1451.3 58.0L1451.7 57.9L1452.1 57.7L1452.5 57.6L1454.4 57.5L1455.6 57.4L1456.8 57.6L1475.7 58.1L1478.2 58.2L1480.8 58.2L1483.4 58.3L1486.0 58.3L1488.6 58.3L1491.1 58.4L1493.4 58.4L1495.6 58.5L1497.1 58.5L1498.4 58.5L1499.8 58.5L1501.0 58.6L1502.3 58.6L1503.5 58.6L1504.7 58.7L1506.0 58.7L1507.2 58.8L1508.4 58.8L1509.6 58.9L1510.8 58.9L1512.0 59.0L1513.3 59.1L1514.6 59.1L1516.0 59.2L1518.1 59.3L1520.2 59.4L1522.5 59.5L1524.9 59.7L1527.4 59.8L1529.9 60.0L1532.5 60.1L1535.2 60.2L1538.7 60.4L1542.3 60.5L1546.0 60.6L1549.8 60.8L1553.8 60.9L1558.0 61.0L1562.3 61.1L1567.0 61.3L1574.7 61.5L1583.2 61.8L1592.3 62.0L1601.8 62.3L1611.5 62.6L1621.2 62.9L1630.8 63.1L1640.0 63.4L1648.8 63.6L1657.5 63.9L1666.2 64.2L1674.8 64.4L1683.5 64.7L1692.1 64.9L1700.7 65.2L1709.4 65.4" stroke="#1f77b4" stroke-width="4.0" fill="none" stroke-linejoin="round" stroke-linecap="square" clip-path="url(#c3)"/>
<path d="M1419.9 250.9L1419.9 249.0L1420.0 247.1L1420.0 245.2L1420.0 243.3L1420.1 241.4L1420.1 239.5L1420.2 237.6L1420.2 235.7L1420.2 233.7L1420.3 231.8L1420.4 229.8L1420.4 227.8L1420.5 225.8L1420.6 223.9L1420.7 221.9L1420.8 219.9L1420.8 217.9L1420.9 215.9L1421.0 213.9L1421.2 211.8L1421.3 209.8L1421.4 207.9L1421.5 205.9L1421.6 204.0L1421.7 202.3L1421.8 200.6L1421.9 198.9L1422.0 197.2L1422.1 195.5L1422.2 194.0L1422.3 192.4L1422.5 191.0L1422.5 190.0L1422.6 189.1L1422.7 188.2L1422.7 187.4L1422.8 186.6L1422.8 185.7L1422.9 184.7L1423.0 183.7L1423.1 182.0L1423.3 180.2L1423.4 178.2L1423.6 176.2L1423.7 174.1L1423.9 172.0L1424.0 169.9L1424.2 167.9L1424.4 165.9L1424.5 163.9L1424.7 161.8L1424.9 159.8L1425.0 157.8L1425.2 155.8L1425.4 153.9L1425.5 152.0L1425.7 150.4L1425.8 148.8L1426.0 147.2L1426.1 145.7L1426.3 144.1L1426.4 142.6L1426.6 141.2L1426.7 139.7L1426.8 138.4L1426.9 137.2L1427.1 136.0L1427.2 134.8L1427.3 133.6L1427.4 132.4L1427.5 131.3L1427.7 130.2L1427.7 129.3L1427.8 128.6L1427.9 127.8L1428.0 127.0L1428.1 126.3L1428.2 125.5L1428.2 124.7L1428.3 123.8L1428.5 122.5L1428.7 121.1L1428.8 119.6L1429.0 118.1L1429.2 116.5L1429.4 115.0L1429.6 113.4L1429.8 111.9L1430.0 110.4L1430.2 108.9L1430.4 107.4L1430.6 105.9L1430.8 104.4L1431.0 103.0L1431.2 101.5L1431.4 100.1L1431.5 98.9L1431.7 97.7L1431.8 96.5L1431.9 95.4L1432.0 94.2L1432.2 93.1L1432.3 92.0L1432.5 90.9L1432.7 89.9L1432.8 88.8L1433.0 87.8L1433.2 86.8L1433.4 85.8L1433.6 84.8L1433.9 83.9L1434.1 82.9L1434.3 82.0L1434.6 81.1L1434.8 80.2L1435.1 79.2L1435.3 78.4L1435.6 77.5L1435.9 76.6L1436.2 75.8L1436.5 75.1L1436.8 74.4L1437.0 73.7L1437.4 73.0L1437.7 72.3L1438.0 71.7L1438.3 71.0L1438.7 70.4L1439.1 69.8L1439.5 69.2L1439.8 68.6L1440.2 68.1L1440.7 67.5L1441.1 67.0L1441.5 66.4L1442.0 65.9L1442.5 65.4L1443.0 64.8L1443.4 64.3L1444.0 63.8L1444.5 63.3L1445.0 62.8L1445.5 62.4L1446.0 61.9L1446.5 61.5L1446.9 61.1L1447.4 60.7L1447.9 60.4L1448.4 60.0L1448.8 59.7L1449.3 59.4L1449.8 59.1L1450.2 58.9L1450.6 58.7L1451.0 58.6L1451.5 58.4L1451.9 58.3L1452.3 58.2L1452.7 58.0L1453.1 57.9L1454.4 57.8L1455.6 57.7L1456.8 57.9L1479.7 60.6L1482.7 60.9L1485.6 61.2L1488.5 61.5L1491.4 61.8L1494.3 62.1L1497.3 62.4L1500.4 62.7L1503.5 63.0L1507.2 63.3L1511.1 63.6L1515.0 64.0L1519.1 64.3L1523.1 64.5L1527.2 64.8L1531.2 65.1L1535.2 65.4L1539.1 65.7L1542.8 65.9L1546.5 66.1L1550.3 66.3L1554.1 66.5L1558.1 66.8L1562.4 67.0L1567.0 67.3L1574.7 67.8L1583.2 68.3L1592.3 68.8L1601.8 69.4L1611.5 70.0L1621.2 70.6L1630.8 71.2L1640.0 71.8L1648.8 72.3L1657.5 72.9L1666.2 73.4L1674.8 73.9L1683.5 74.4L1692.1 75.0L1700.7 75.5L1709.4 76.0" stroke="#ff7f0e" stroke-width="4.0" fill="none" stroke-linejoin="round" stroke-linecap="square" clip-path="url(#c3)"/>
<path d="M1419.69 260.80v8.90M1535.57 260.80v8.90M1651.45 260.80v8.90M1405.20 82.60h-8.90M1405.20 152.30h-8.90M1405.20 222.00h-8.90" stroke="#000" stroke-width="2.2" fill="none"/>
<rect x="1405.20" y="48.00" width="318.70" height="212.80" fill="none" stroke="#000" stroke-width="2.2"/>
<text class="t" x="1419.64" y="296.85" text-anchor="middle">0</text>
<text class="t" x="1535.52" y="296.85" text-anchor="middle">200</text>
<text class="t" x="1651.40" y="296.85" text-anchor="middle">400</text>
<text class="t" x="1329.60" y="91.20">10</text>
<text class="s" x="1360.40" y="82.10">−3</text>
<text class="t" x="1329.60" y="160.90">10</text>
<text class="s" x="1360.40" y="151.80">−5</text>
<text class="t" x="1329.60" y="230.60">10</text>
<text class="s" x="1360.40" y="221.50">−7</text>
<text class="ti" y="31.50" xml:space="preserve"><tspan x="1409.13 1417.29 1435.26 1450.57 1465.87 1475.21 1499.82 1509.16 1527.85 1537.19 1555.88 1574.57 1593.25 1602.59">loss = 0.079, </tspan><tspan class="i" x="1611.93">δ</tspan><tspan x="1629.90 1654.51 1673.20 1680.92 1699.61">=2.23</tspan></text>
</g>
<g>
<clipPath id="c4"><rect x="142.20" y="366.00" width="318.70" height="212.80"/></clipPath>
<path d="M156.69 366.00V578.80M272.57 366.00V578.80M388.45 366.00V578.80M142.20 377.00H460.90M142.20 446.45H460.90M142.20 515.90H460.90" stroke="#b0b0b0" stroke-width="2.2" fill="none"/>
<path d="M156.3 568.6L156.3 566.7L156.4 564.8L156.4 562.9L156.4 561.0L156.5 559.1L156.5 557.2L156.6 555.3L156.6 553.4L156.7 551.4L156.7 549.5L156.8 547.5L156.8 545.5L156.9 543.5L157.0 541.6L157.1 539.6L157.2 537.6L157.2 535.6L157.3 533.6L157.4 531.6L157.6 529.5L157.7 527.5L157.8 525.6L157.9 523.6L158.0 521.7L158.1 520.0L158.2 518.3L158.3 516.6L158.4 514.9L158.5 513.2L158.7 511.7L158.8 510.1L158.8 508.7L158.9 507.7L159.0 506.8L159.1 505.9L159.1 505.1L159.2 504.2L159.2 503.4L159.3 502.4L159.4 501.4L159.5 499.7L159.7 497.9L159.8 495.9L160.0 493.9L160.1 491.8L160.3 489.7L160.4 487.6L160.6 485.6L160.8 483.6L160.9 481.6L161.1 479.6L161.3 477.5L161.4 475.5L161.6 473.5L161.8 471.6L161.9 469.7L162.1 468.1L162.2 466.5L162.4 464.9L162.5 463.4L162.7 461.8L162.8 460.3L163.0 458.9L163.1 457.4L163.2 456.1L163.3 454.9L163.5 453.7L163.6 452.5L163.7 451.3L163.8 450.1L163.9 449.0L164.1 447.9L164.1 447.1L164.2 446.3L164.3 445.5L164.4 444.7L164.5 444.0L164.6 443.2L164.7 442.4L164.8 441.5L164.9 440.2L165.1 438.8L165.2 437.3L165.4 435.8L165.6 434.2L165.8 432.7L166.0 431.1L166.2 429.6L166.4 428.1L166.6 426.6L166.8 425.1L167.0 423.6L167.2 422.1L167.4 420.6L167.6 419.2L167.8 417.8L167.9 416.6L168.1 415.4L168.2 414.2L168.3 413.1L168.4 411.9L168.6 410.8L168.7 409.7L168.9 408.6L169.1 407.6L169.2 406.5L169.4 405.5L169.6 404.5L169.8 403.5L170.0 402.6L170.3 401.6L170.5 400.6L170.7 399.7L171.0 398.8L171.2 397.9L171.5 396.9L171.7 396.1L172.0 395.2L172.3 394.3L172.6 393.5L172.9 392.8L173.2 392.1L173.4 391.4L173.8 390.7L174.1 390.0L174.4 389.4L174.7 388.7L175.1 388.1L175.5 387.5L175.8 386.9L176.2 386.3L176.7 385.8L177.1 385.2L177.5 384.7L177.9 384.1L178.4 383.6L178.9 383.1L179.3 382.5L179.8 382.0L180.3 381.5L180.9 381.0L181.4 380.5L181.9 380.1L182.4 379.6L182.9 379.2L183.3 378.8L183.8 378.4L184.3 378.1L184.8 377.7L185.2 377.4L185.7 377.1L186.2 376.8L186.6 376.6L187.0 376.4L187.4 376.3L187.8 376.1L188.3 376.0L188.7 375.9L189.1 375.7L189.5 375.6L191.4 375.4L192.6 375.4L193.8 375.6L217.7 376.2L221.7 376.2L225.7 376.3L229.8 376.4L233.8 376.4L237.8 376.4L241.8 376.5L245.7 376.6L249.4 376.6L252.5 376.6L255.5 376.7L258.4 376.7L261.3 376.8L264.2 376.8L267.1 376.9L270.1 376.9L273.2 376.9L276.9 377.0L280.5 377.1L284.2 377.1L288.0 377.2L291.9 377.2L296.0 377.3L300.4 377.4L305.0 377.4L312.9 377.5L321.6 377.6L331.0 377.6L340.8 377.7L350.8 377.8L360.8 377.9L370.6 377.9L380.0 378.0L388.5 378.1L396.9 378.1L405.2 378.2L413.4 378.3L421.7 378.4L429.9 378.4L438.1 378.5L446.4 378.6" stroke="#1f77b4" stroke-width="4.0" fill="none" stroke-linejoin="round" stroke-linecap="square" clip-path="url(#c4)"/>
<path d="M156.9 568.9L156.9 567.0L157.0 565.1L157.0 563.2L157.0 561.3L157.1 559.4L157.1 557.5L157.2 555.6L157.2 553.7L157.2 551.7L157.3 549.8L157.4 547.8L157.4 545.8L157.5 543.8L157.6 541.9L157.7 539.9L157.8 537.9L157.8 535.9L157.9 533.9L158.0 531.9L158.2 529.9L158.3 527.9L158.4 525.9L158.5 523.9L158.6 522.0L158.7 520.3L158.8 518.6L158.9 516.9L159.0 515.2L159.1 513.5L159.2 512.0L159.3 510.4L159.4 509.0L159.5 508.0L159.6 507.1L159.7 506.2L159.7 505.4L159.8 504.6L159.8 503.7L159.9 502.7L160.0 501.7L160.1 500.0L160.3 498.2L160.4 496.2L160.6 494.2L160.7 492.1L160.9 490.0L161.0 487.9L161.2 485.9L161.4 483.9L161.5 481.9L161.7 479.9L161.9 477.8L162.0 475.8L162.2 473.8L162.4 471.9L162.6 470.0L162.7 468.4L162.8 466.8L163.0 465.2L163.1 463.6L163.3 462.1L163.4 460.6L163.6 459.1L163.7 457.7L163.8 456.4L163.9 455.2L164.1 454.0L164.2 452.8L164.3 451.6L164.4 450.4L164.5 449.3L164.7 448.2L164.7 447.4L164.8 446.6L164.9 445.8L165.0 445.0L165.1 444.3L165.2 443.5L165.2 442.7L165.3 441.8L165.5 440.5L165.7 439.1L165.8 437.6L166.0 436.1L166.2 434.5L166.4 433.0L166.6 431.4L166.8 429.9L167.0 428.4L167.2 426.9L167.4 425.4L167.6 423.9L167.8 422.4L168.0 420.9L168.2 419.5L168.4 418.1L168.6 416.9L168.7 415.7L168.8 414.5L168.9 413.4L169.1 412.2L169.2 411.1L169.3 410.0L169.5 408.9L169.7 407.9L169.8 406.8L170.0 405.8L170.2 404.8L170.4 403.8L170.6 402.9L170.9 401.9L171.1 400.9L171.3 400.0L171.6 399.1L171.8 398.1L172.1 397.2L172.3 396.4L172.6 395.5L172.9 394.6L173.2 393.8L173.5 393.1L173.8 392.4L174.1 391.7L174.4 391.0L174.7 390.3L175.0 389.7L175.3 389.0L175.7 388.4L176.1 387.8L176.4 387.2L176.8 386.6L177.2 386.1L177.7 385.5L178.1 385.0L178.6 384.4L179.0 383.9L179.5 383.4L179.9 382.8L180.4 382.3L180.9 381.8L181.5 381.3L182.0 380.8L182.5 380.4L183.0 379.9L183.5 379.5L183.9 379.1L184.4 378.7L184.9 378.4L185.4 378.0L185.8 377.7L186.3 377.4L186.8 377.1L187.2 376.9L187.6 376.7L188.0 376.6L188.4 376.4L188.9 376.3L189.3 376.2L189.7 376.0L190.1 375.9L191.4 375.8L192.6 375.7L193.8 375.9L217.7 376.7L221.7 376.9L225.7 377.0L229.8 377.2L233.8 377.3L237.8 377.5L241.8 377.6L245.7 377.8L249.4 377.9L252.5 378.0L255.5 378.1L258.4 378.2L261.2 378.3L264.1 378.4L267.0 378.5L270.0 378.6L273.2 378.7L277.2 378.8L281.2 378.9L285.3 379.1L289.5 379.2L293.9 379.3L298.4 379.4L303.2 379.5L308.2 379.6L316.0 379.8L324.4 380.0L333.4 380.1L342.7 380.3L352.2 380.4L361.6 380.6L371.0 380.8L380.0 380.9L388.4 381.0L396.8 381.2L405.1 381.3L413.4 381.5L421.6 381.6L429.9 381.7L438.1 381.9L446.4 382.0" stroke="#ff7f0e" stroke-width="4.0" fill="none" stroke-linejoin="round" stroke-linecap="square" clip-path="url(#c4)"/>
<path d="M156.69 578.80v8.90M272.57 578.80v8.90M388.45 578.80v8.90M142.20 377.00h-8.90M142.20 446.45h-8.90M142.20 515.90h-8.90" stroke="#000" stroke-width="2.2" fill="none"/>
<rect x="142.20" y="366.00" width="318.70" height="212.80" fill="none" stroke="#000" stroke-width="2.2"/>
<text class="t" x="156.64" y="614.85" text-anchor="middle">0</text>
<text class="t" x="272.52" y="614.85" text-anchor="middle">200</text>
<text class="t" x="388.40" y="614.85" text-anchor="middle">400</text>
<text class="t" x="66.60" y="385.60">10</text>
<text class="s" x="97.40" y="376.50">−2</text>
<text class="t" x="66.60" y="455.05">10</text>
<text class="s" x="97.40" y="445.95">−4</text>
<text class="t" x="66.60" y="524.50">10</text>
<text class="s" x="97.40" y="515.40">−6</text>
<text class="ti" y="349.50" xml:space="preserve"><tspan x="145.63 153.79 171.76 187.07 202.37 211.71 236.32 245.66 264.35 273.69 292.38 311.07 329.75 339.09">loss = 0.032, </tspan><tspan class="i" x="348.43">δ</tspan><tspan x="366.40 391.01 409.70 419.04 437.73">=3.47</tspan></text>
<text class="l" x="301.45" y="655.90" text-anchor="middle">Time</text>
<g transform="translate(46.55 504.20) rotate(-90)"><text class="l" y="0"><tspan x="0">|</tspan><tspan class="i" x="11.55">n</tspan><tspan x="33.6" y="-12.35" style="font-size:24.2px">1</tspan><tspan x="49.8" y="0">|</tspan></text><text class="l" x="16.1" y="-4.3">ˆ</text></g>
</g>
<g>
<clipPath id="c5"><rect x="563.10" y="366.00" width="318.70" height="212.80"/></clipPath>
<path d="M577.59 366.00V578.80M693.47 366.00V578.80M809.35 366.00V578.80M563.10 377.00H881.80M563.10 447.60H881.80M563.10 518.20H881.80" stroke="#b0b0b0" stroke-width="2.2" fill="none"/>
<path d="M577.2 568.6L577.2 566.7L577.3 564.8L577.3 562.9L577.3 561.0L577.4 559.1L577.4 557.2L577.5 555.3L577.5 553.4L577.5 551.4L577.6 549.5L577.7 547.5L577.7 545.5L577.8 543.5L577.9 541.6L578.0 539.6L578.0 537.6L578.1 535.6L578.2 533.6L578.3 531.6L578.5 529.5L578.6 527.5L578.7 525.6L578.8 523.6L578.9 521.7L579.0 520.0L579.1 518.3L579.2 516.6L579.3 514.9L579.4 513.2L579.5 511.7L579.6 510.1L579.8 508.7L579.8 507.7L579.9 506.8L580.0 505.9L580.0 505.1L580.1 504.2L580.1 503.4L580.2 502.4L580.3 501.4L580.4 499.7L580.6 497.9L580.7 495.9L580.9 493.9L581.0 491.8L581.2 489.7L581.3 487.6L581.5 485.6L581.7 483.6L581.8 481.6L582.0 479.6L582.2 477.5L582.3 475.5L582.5 473.5L582.7 471.6L582.9 469.7L583.0 468.1L583.1 466.5L583.3 464.9L583.4 463.4L583.6 461.8L583.7 460.3L583.9 458.9L584.0 457.4L584.1 456.1L584.2 454.9L584.4 453.7L584.5 452.5L584.6 451.3L584.7 450.1L584.8 449.0L585.0 447.9L585.0 447.1L585.1 446.3L585.2 445.5L585.3 444.7L585.4 444.0L585.5 443.2L585.5 442.4L585.6 441.5L585.8 440.2L586.0 438.8L586.1 437.3L586.3 435.8L586.5 434.2L586.7 432.7L586.9 431.1L587.1 429.6L587.3 428.1L587.5 426.6L587.7 425.1L587.9 423.6L588.1 422.1L588.3 420.6L588.5 419.2L588.7 417.8L588.9 416.6L589.0 415.4L589.1 414.2L589.2 413.1L589.4 411.9L589.5 410.8L589.6 409.7L589.8 408.6L590.0 407.6L590.1 406.5L590.3 405.5L590.5 404.5L590.7 403.5L590.9 402.6L591.2 401.6L591.4 400.6L591.6 399.7L591.9 398.8L592.1 397.9L592.4 396.9L592.6 396.1L592.9 395.2L593.2 394.3L593.5 393.5L593.8 392.8L594.1 392.1L594.4 391.4L594.7 390.7L595.0 390.0L595.3 389.4L595.6 388.7L596.0 388.1L596.4 387.5L596.8 386.9L597.1 386.3L597.5 385.8L598.0 385.2L598.4 384.7L598.9 384.1L599.3 383.6L599.8 383.1L600.2 382.5L600.7 382.0L601.2 381.5L601.8 381.0L602.3 380.5L602.8 380.1L603.3 379.6L603.8 379.2L604.2 378.8L604.7 378.4L605.2 378.1L605.7 377.7L606.1 377.4L606.6 377.1L607.1 376.8L607.5 376.6L607.9 376.4L608.3 376.3L608.8 376.1L609.2 376.0L609.6 375.9L610.0 375.7L610.4 375.6L612.3 375.4L613.5 375.4L614.7 375.6L618.7 376.5L621.6 377.2L624.5 377.9L627.2 378.6L630.0 379.3L632.9 380.1L636.0 380.8L639.4 381.7L643.1 382.6L650.7 384.5L659.3 386.6L668.7 389.0L678.7 391.5L689.3 394.1L700.3 396.8L711.6 399.6L723.0 402.5L739.0 406.5L756.1 410.8L774.0 415.2L792.5 419.8L811.4 424.5L830.3 429.2L849.1 433.9L867.4 438.5" stroke="#1f77b4" stroke-width="4.0" fill="none" stroke-linejoin="round" stroke-linecap="square" clip-path="url(#c5)"/>
<path d="M577.8 568.9L577.8 567.0L577.9 565.1L577.9 563.2L577.9 561.3L578.0 559.4L578.0 557.5L578.0 555.6L578.1 553.7L578.1 551.7L578.2 549.8L578.3 547.8L578.3 545.8L578.4 543.8L578.5 541.9L578.6 539.9L578.6 537.9L578.7 535.9L578.8 533.9L578.9 531.9L579.0 529.9L579.2 527.9L579.3 525.9L579.4 523.9L579.5 522.0L579.6 520.3L579.7 518.6L579.8 516.9L579.9 515.2L580.0 513.5L580.1 512.0L580.2 510.4L580.4 509.0L580.4 508.0L580.5 507.1L580.5 506.2L580.6 505.4L580.7 504.6L580.8 503.7L580.8 502.7L580.9 501.7L581.0 500.0L581.2 498.2L581.3 496.2L581.5 494.2L581.6 492.1L581.8 490.0L581.9 487.9L582.1 485.9L582.3 483.9L582.4 481.9L582.6 479.9L582.8 477.8L582.9 475.8L583.1 473.8L583.3 471.9L583.5 470.0L583.6 468.4L583.7 466.8L583.9 465.2L584.0 463.6L584.2 462.1L584.3 460.6L584.5 459.1L584.6 457.7L584.7 456.4L584.8 455.2L585.0 454.0L585.1 452.8L585.2 451.6L585.3 450.4L585.4 449.3L585.5 448.2L585.6 447.4L585.7 446.6L585.8 445.8L585.9 445.0L586.0 444.3L586.1 443.5L586.1 442.7L586.2 441.8L586.4 440.5L586.6 439.1L586.8 437.6L586.9 436.1L587.1 434.5L587.3 433.0L587.5 431.4L587.7 429.9L587.9 428.4L588.1 426.9L588.3 425.4L588.5 423.9L588.7 422.4L588.9 420.9L589.1 419.5L589.3 418.1L589.5 416.9L589.6 415.7L589.7 414.5L589.8 413.4L590.0 412.2L590.1 411.1L590.2 410.0L590.4 408.9L590.6 407.9L590.8 406.8L590.9 405.8L591.1 404.8L591.3 403.8L591.5 402.9L591.8 401.9L592.0 400.9L592.2 400.0L592.5 399.1L592.7 398.1L593.0 397.2L593.2 396.4L593.5 395.5L593.8 394.6L594.1 393.8L594.4 393.1L594.7 392.4L595.0 391.7L595.3 391.0L595.6 390.3L595.9 389.7L596.2 389.0L596.6 388.4L597.0 387.8L597.4 387.2L597.7 386.6L598.1 386.1L598.6 385.5L599.0 385.0L599.5 384.4L599.9 383.9L600.4 383.4L600.9 382.8L601.3 382.3L601.9 381.8L602.4 381.3L602.9 380.8L603.4 380.4L603.9 379.9L604.4 379.5L604.8 379.1L605.3 378.7L605.8 378.4L606.3 378.0L606.7 377.7L607.2 377.4L607.7 377.1L608.1 376.9L608.5 376.7L608.9 376.6L609.4 376.4L609.8 376.3L610.2 376.2L610.6 376.0L611.0 375.9L612.3 375.8L613.5 375.7L614.7 375.9L618.7 376.7L621.6 377.5L624.5 378.2L627.2 378.9L630.0 379.7L632.9 380.4L636.0 381.3L639.4 382.1L643.1 383.1L650.7 385.1L659.3 387.3L668.6 389.7L678.7 392.2L689.3 394.9L700.3 397.7L711.6 400.6L723.0 403.5L739.0 407.6L756.1 411.9L774.0 416.4L792.5 421.1L811.4 425.8L830.3 430.6L849.1 435.3L867.4 439.9" stroke="#ff7f0e" stroke-width="4.0" fill="none" stroke-linejoin="round" stroke-linecap="square" clip-path="url(#c5)"/>
<path d="M577.59 578.80v8.90M693.47 578.80v8.90M809.35 578.80v8.90M563.10 377.00h-8.90M563.10 447.60h-8.90M563.10 518.20h-8.90" stroke="#000" stroke-width="2.2" fill="none"/>
<rect x="563.10" y="366.00" width="318.70" height="212.80" fill="none" stroke="#000" stroke-width="2.2"/>
<text class="t" x="577.54" y="614.85" text-anchor="middle">0</text>
<text class="t" x="693.42" y="614.85" text-anchor="middle">200</text>
<text class="t" x="809.30" y="614.85" text-anchor="middle">400</text>
<text class="t" x="487.50" y="385.60">10</text>
<text class="s" x="518.30" y="376.50">−3</text>
<text class="t" x="487.50" y="456.20">10</text>
<text class="s" x="518.30" y="447.10">−5</text>
<text class="t" x="487.50" y="526.80">10</text>
<text class="s" x="518.30" y="517.70">−7</text>
<text class="ti" y="349.50" xml:space="preserve"><tspan x="566.53 574.69 592.66 607.97 623.27 632.61 657.22 666.56 685.25 694.59 713.28 731.97 750.65 759.99">loss = 0.013, </tspan><tspan class="i" x="769.33">δ</tspan><tspan x="787.30 811.91 830.60 839.94 858.63">=0.07</tspan></text>
<text class="l" x="722.35" y="655.90" text-anchor="middle">Time</text>
</g>
<g>
<clipPath id="c6"><rect x="984.20" y="366.00" width="318.70" height="212.80"/></clipPath>
<path d="M998.69 366.00V578.80M1114.57 366.00V578.80M1230.45 366.00V578.80M984.20 377.00H1302.90M984.20 447.60H1302.90M984.20 518.20H1302.90" stroke="#b0b0b0" stroke-width="2.2" fill="none"/>
<path d="M998.3 568.6L998.3 566.7L998.4 564.8L998.4 562.9L998.4 561.0L998.5 559.1L998.5 557.2L998.5 555.3L998.6 553.4L998.6 551.4L998.7 549.5L998.8 547.5L998.8 545.5L998.9 543.5L999.0 541.6L999.1 539.6L999.1 537.6L999.2 535.6L999.3 533.6L999.4 531.6L999.5 529.5L999.7 527.5L999.8 525.6L999.9 523.6L1000.0 521.7L1000.1 520.0L1000.2 518.3L1000.3 516.6L1000.4 514.9L1000.5 513.2L1000.6 511.7L1000.8 510.1L1000.9 508.7L1000.9 507.7L1001.0 506.8L1001.0 505.9L1001.1 505.1L1001.2 504.2L1001.2 503.4L1001.3 502.4L1001.4 501.4L1001.5 499.7L1001.7 497.9L1001.8 495.9L1002.0 493.9L1002.1 491.8L1002.3 489.7L1002.4 487.6L1002.6 485.6L1002.8 483.6L1002.9 481.6L1003.1 479.6L1003.3 477.5L1003.4 475.5L1003.6 473.5L1003.8 471.6L1004.0 469.7L1004.1 468.1L1004.2 466.5L1004.4 464.9L1004.5 463.4L1004.7 461.8L1004.8 460.3L1005.0 458.9L1005.1 457.4L1005.2 456.1L1005.3 454.9L1005.5 453.7L1005.6 452.5L1005.7 451.3L1005.8 450.1L1005.9 449.0L1006.0 447.9L1006.1 447.1L1006.2 446.3L1006.3 445.5L1006.4 444.7L1006.5 444.0L1006.6 443.2L1006.6 442.4L1006.8 441.5L1006.9 440.2L1007.1 438.8L1007.2 437.3L1007.4 435.8L1007.6 434.2L1007.8 432.7L1008.0 431.1L1008.2 429.6L1008.4 428.1L1008.6 426.6L1008.8 425.1L1009.0 423.6L1009.2 422.1L1009.4 420.6L1009.6 419.2L1009.8 417.8L1010.0 416.6L1010.1 415.4L1010.2 414.2L1010.3 413.1L1010.5 411.9L1010.6 410.8L1010.7 409.7L1010.9 408.6L1011.1 407.6L1011.2 406.5L1011.4 405.5L1011.6 404.5L1011.8 403.5L1012.0 402.6L1012.3 401.6L1012.5 400.6L1012.7 399.7L1013.0 398.8L1013.2 397.9L1013.5 396.9L1013.7 396.1L1014.0 395.2L1014.3 394.3L1014.6 393.5L1014.9 392.8L1015.2 392.1L1015.5 391.4L1015.8 390.7L1016.1 390.0L1016.4 389.4L1016.7 388.7L1017.1 388.1L1017.5 387.5L1017.9 386.9L1018.2 386.3L1018.6 385.8L1019.1 385.2L1019.5 384.7L1020.0 384.1L1020.4 383.6L1020.9 383.1L1021.4 382.5L1021.8 382.0L1022.4 381.5L1022.9 381.0L1023.4 380.5L1023.9 380.1L1024.4 379.6L1024.9 379.2L1025.3 378.8L1025.8 378.4L1026.3 378.1L1026.8 377.7L1027.2 377.4L1027.7 377.1L1028.2 376.8L1028.6 376.6L1029.0 376.4L1029.4 376.3L1029.8 376.1L1030.3 376.0L1030.7 375.9L1031.1 375.7L1031.5 375.6L1033.4 375.4L1034.6 375.4L1035.8 375.6L1039.8 376.5L1042.8 377.3L1045.6 378.0L1048.3 378.8L1051.1 379.5L1054.0 380.2L1057.1 381.1L1060.5 381.9L1064.2 382.9L1071.8 384.9L1080.4 387.1L1089.7 389.4L1099.8 392.0L1110.3 394.7L1121.3 397.4L1132.6 400.3L1144.0 403.2L1160.0 407.3L1177.1 411.6L1195.1 416.1L1213.6 420.8L1232.4 425.6L1251.4 430.4L1270.2 435.1L1288.5 439.8" stroke="#1f77b4" stroke-width="4.0" fill="none" stroke-linejoin="round" stroke-linecap="square" clip-path="url(#c6)"/>
<path d="M998.9 568.9L998.9 567.0L999.0 565.1L999.0 563.2L999.0 561.3L999.1 559.4L999.1 557.5L999.1 555.6L999.2 553.7L999.2 551.7L999.3 549.8L999.4 547.8L999.4 545.8L999.5 543.8L999.6 541.9L999.7 539.9L999.8 537.9L999.8 535.9L999.9 533.9L1000.0 531.9L1000.1 529.9L1000.3 527.9L1000.4 525.9L1000.5 523.9L1000.6 522.0L1000.7 520.3L1000.8 518.6L1000.9 516.9L1001.0 515.2L1001.1 513.5L1001.2 512.0L1001.4 510.4L1001.5 509.0L1001.5 508.0L1001.6 507.1L1001.6 506.2L1001.7 505.4L1001.8 504.6L1001.9 503.7L1001.9 502.7L1002.0 501.7L1002.1 500.0L1002.3 498.2L1002.4 496.2L1002.6 494.2L1002.7 492.1L1002.9 490.0L1003.0 487.9L1003.2 485.9L1003.4 483.9L1003.5 481.9L1003.7 479.9L1003.9 477.8L1004.0 475.8L1004.2 473.8L1004.4 471.9L1004.5 470.0L1004.7 468.4L1004.8 466.8L1005.0 465.2L1005.1 463.6L1005.3 462.1L1005.4 460.6L1005.6 459.1L1005.7 457.7L1005.8 456.4L1005.9 455.2L1006.1 454.0L1006.2 452.8L1006.3 451.6L1006.4 450.4L1006.5 449.3L1006.6 448.2L1006.7 447.4L1006.8 446.6L1006.9 445.8L1007.0 445.0L1007.1 444.3L1007.2 443.5L1007.2 442.7L1007.4 441.8L1007.5 440.5L1007.7 439.1L1007.9 437.6L1008.0 436.1L1008.2 434.5L1008.4 433.0L1008.6 431.4L1008.8 429.9L1009.0 428.4L1009.2 426.9L1009.4 425.4L1009.6 423.9L1009.8 422.4L1010.0 420.9L1010.2 419.5L1010.4 418.1L1010.5 416.9L1010.7 415.7L1010.8 414.5L1010.9 413.4L1011.0 412.2L1011.2 411.1L1011.3 410.0L1011.5 408.9L1011.7 407.9L1011.9 406.8L1012.0 405.8L1012.2 404.8L1012.4 403.8L1012.6 402.9L1012.9 401.9L1013.1 400.9L1013.3 400.0L1013.6 399.1L1013.8 398.1L1014.1 397.2L1014.3 396.4L1014.6 395.5L1014.9 394.6L1015.2 393.8L1015.5 393.1L1015.8 392.4L1016.0 391.7L1016.4 391.0L1016.7 390.3L1017.0 389.7L1017.3 389.0L1017.7 388.4L1018.1 387.8L1018.5 387.2L1018.8 386.6L1019.2 386.1L1019.7 385.5L1020.1 385.0L1020.5 384.4L1021.0 383.9L1021.5 383.4L1022.0 382.8L1022.4 382.3L1023.0 381.8L1023.5 381.3L1024.0 380.8L1024.5 380.4L1025.0 379.9L1025.5 379.5L1025.9 379.1L1026.4 378.7L1026.9 378.4L1027.4 378.0L1027.8 377.7L1028.3 377.4L1028.8 377.1L1029.2 376.9L1029.6 376.7L1030.0 376.6L1030.5 376.4L1030.9 376.3L1031.3 376.2L1031.7 376.0L1032.1 375.9L1033.4 375.8L1034.6 375.7L1035.8 375.9L1039.8 376.7L1042.8 377.5L1045.6 378.2L1048.3 378.9L1051.1 379.7L1054.0 380.4L1057.1 381.3L1060.5 382.1L1064.2 383.1L1071.8 385.1L1080.4 387.3L1089.7 389.7L1099.8 392.2L1110.3 394.9L1121.3 397.7L1132.6 400.6L1144.0 403.5L1160.0 407.6L1177.1 411.9L1195.1 416.5L1213.6 421.2L1232.4 426.0L1251.4 430.8L1270.2 435.5L1288.5 440.2" stroke="#ff7f0e" stroke-width="4.0" fill="none" stroke-linejoin="round" stroke-linecap="square" clip-path="url(#c6)"/>
<path d="M998.69 578.80v8.90M1114.57 578.80v8.90M1230.45 578.80v8.90M984.20 377.00h-8.90M984.20 447.60h-8.90M984.20 518.20h-8.90" stroke="#000" stroke-width="2.2" fill="none"/>
<rect x="984.20" y="366.00" width="318.70" height="212.80" fill="none" stroke="#000" stroke-width="2.2"/>
<text class="t" x="998.64" y="614.85" text-anchor="middle">0</text>
<text class="t" x="1114.52" y="614.85" text-anchor="middle">200</text>
<text class="t" x="1230.40" y="614.85" text-anchor="middle">400</text>
<text class="t" x="908.60" y="385.60">10</text>
<text class="s" x="939.40" y="376.50">−3</text>
<text class="t" x="908.60" y="456.20">10</text>
<text class="s" x="939.40" y="447.10">−5</text>
<text class="t" x="908.60" y="526.80">10</text>
<text class="s" x="939.40" y="517.70">−7</text>
<text class="ti" y="349.50" xml:space="preserve"><tspan x="987.63 995.79 1013.76 1029.07 1044.37 1053.71 1078.32 1087.66 1106.35 1115.69 1134.38 1153.07 1171.75 1181.09">loss = 0.005, </tspan><tspan class="i" x="1190.43">δ</tspan><tspan x="1208.40 1233.01 1251.70 1261.04 1279.73">=0.02</tspan></text>
<text class="l" x="1143.45" y="655.90" text-anchor="middle">Time</text>
</g>
<g>
<clipPath id="c7"><rect x="1405.20" y="366.00" width="318.70" height="212.80"/></clipPath>
<path d="M1419.69 366.00V578.80M1535.57 366.00V578.80M1651.45 366.00V578.80M1405.20 400.00H1723.90M1405.20 469.50H1723.90M1405.20 539.00H1723.90" stroke="#b0b0b0" stroke-width="2.2" fill="none"/>
<path d="M1419.3 568.6L1419.3 566.7L1419.4 564.8L1419.4 562.9L1419.4 561.0L1419.5 559.1L1419.5 557.2L1419.5 555.3L1419.6 553.4L1419.7 551.4L1419.7 549.5L1419.8 547.5L1419.8 545.5L1419.9 543.5L1420.0 541.6L1420.1 539.6L1420.2 537.6L1420.2 535.6L1420.3 533.6L1420.4 531.6L1420.5 529.5L1420.7 527.5L1420.8 525.6L1420.9 523.6L1421.0 521.7L1421.1 520.0L1421.2 518.3L1421.3 516.6L1421.4 514.9L1421.5 513.2L1421.7 511.7L1421.8 510.1L1421.8 508.7L1421.9 507.7L1422.0 506.8L1422.0 505.9L1422.1 505.1L1422.2 504.2L1422.2 503.4L1422.3 502.4L1422.4 501.4L1422.5 499.7L1422.7 497.9L1422.8 495.9L1423.0 493.9L1423.1 491.8L1423.3 489.7L1423.4 487.6L1423.6 485.6L1423.8 483.6L1423.9 481.6L1424.1 479.6L1424.3 477.5L1424.4 475.5L1424.6 473.5L1424.8 471.6L1425.0 469.7L1425.1 468.1L1425.2 466.5L1425.4 464.9L1425.5 463.4L1425.7 461.8L1425.8 460.3L1426.0 458.9L1426.1 457.4L1426.2 456.1L1426.3 454.9L1426.5 453.7L1426.6 452.5L1426.7 451.3L1426.8 450.1L1426.9 449.0L1427.0 447.9L1427.1 447.1L1427.2 446.3L1427.3 445.5L1427.4 444.7L1427.5 444.0L1427.6 443.2L1427.7 442.4L1427.8 441.5L1427.9 440.2L1428.1 438.8L1428.2 437.3L1428.4 435.8L1428.6 434.2L1428.8 432.7L1429.0 431.1L1429.2 429.6L1429.4 428.1L1429.6 426.6L1429.8 425.1L1430.0 423.6L1430.2 422.1L1430.4 420.6L1430.6 419.2L1430.8 417.8L1431.0 416.6L1431.1 415.4L1431.2 414.2L1431.3 413.1L1431.5 411.9L1431.6 410.8L1431.7 409.7L1431.9 408.6L1432.1 407.6L1432.2 406.5L1432.4 405.5L1432.6 404.5L1432.8 403.5L1433.0 402.6L1433.3 401.6L1433.5 400.6L1433.7 399.7L1434.0 398.8L1434.2 397.9L1434.5 396.9L1434.7 396.1L1435.0 395.2L1435.3 394.3L1435.6 393.5L1435.9 392.8L1436.2 392.1L1436.5 391.4L1436.8 390.7L1437.1 390.0L1437.4 389.4L1437.7 388.7L1438.1 388.1L1438.5 387.5L1438.8 386.9L1439.2 386.3L1439.7 385.8L1440.1 385.2L1440.5 384.7L1441.0 384.1L1441.4 383.6L1441.9 383.1L1442.3 382.5L1442.8 382.0L1443.3 381.5L1443.9 381.0L1444.4 380.5L1444.9 380.1L1445.4 379.6L1445.9 379.2L1446.3 378.8L1446.8 378.4L1447.3 378.1L1447.8 377.7L1448.2 377.4L1448.7 377.1L1449.2 376.8L1449.6 376.6L1450.0 376.4L1450.4 376.3L1450.8 376.1L1451.3 376.0L1451.7 375.9L1452.1 375.7L1452.5 375.6L1454.4 375.4L1455.6 375.4L1456.8 375.6L1468.5 377.1L1470.5 377.3L1472.4 377.5L1474.2 377.7L1476.0 377.9L1478.0 378.2L1480.1 378.4L1482.4 378.6L1485.1 378.9L1492.1 379.5L1500.3 380.2L1509.7 381.0L1519.8 381.8L1530.7 382.7L1542.0 383.6L1553.5 384.5L1565.0 385.4L1581.0 386.8L1598.1 388.3L1616.0 389.8L1634.5 391.4L1653.4 393.1L1672.3 394.7L1691.1 396.3L1709.4 397.9" stroke="#1f77b4" stroke-width="4.0" fill="none" stroke-linejoin="round" stroke-linecap="square" clip-path="url(#c7)"/>
<path d="M1419.9 568.9L1419.9 567.0L1420.0 565.1L1420.0 563.2L1420.0 561.3L1420.1 559.4L1420.1 557.5L1420.2 555.6L1420.2 553.7L1420.2 551.7L1420.3 549.8L1420.4 547.8L1420.4 545.8L1420.5 543.8L1420.6 541.9L1420.7 539.9L1420.8 537.9L1420.8 535.9L1420.9 533.9L1421.0 531.9L1421.2 529.9L1421.3 527.9L1421.4 525.9L1421.5 523.9L1421.6 522.0L1421.7 520.3L1421.8 518.6L1421.9 516.9L1422.0 515.2L1422.1 513.5L1422.2 512.0L1422.3 510.4L1422.5 509.0L1422.5 508.0L1422.6 507.1L1422.7 506.2L1422.7 505.4L1422.8 504.6L1422.8 503.7L1422.9 502.7L1423.0 501.7L1423.1 500.0L1423.3 498.2L1423.4 496.2L1423.6 494.2L1423.7 492.1L1423.9 490.0L1424.0 487.9L1424.2 485.9L1424.4 483.9L1424.5 481.9L1424.7 479.9L1424.9 477.8L1425.0 475.8L1425.2 473.8L1425.4 471.9L1425.5 470.0L1425.7 468.4L1425.8 466.8L1426.0 465.2L1426.1 463.6L1426.3 462.1L1426.4 460.6L1426.6 459.1L1426.7 457.7L1426.8 456.4L1426.9 455.2L1427.1 454.0L1427.2 452.8L1427.3 451.6L1427.4 450.4L1427.5 449.3L1427.7 448.2L1427.7 447.4L1427.8 446.6L1427.9 445.8L1428.0 445.0L1428.1 444.3L1428.2 443.5L1428.2 442.7L1428.3 441.8L1428.5 440.5L1428.7 439.1L1428.8 437.6L1429.0 436.1L1429.2 434.5L1429.4 433.0L1429.6 431.4L1429.8 429.9L1430.0 428.4L1430.2 426.9L1430.4 425.4L1430.6 423.9L1430.8 422.4L1431.0 420.9L1431.2 419.5L1431.4 418.1L1431.5 416.9L1431.7 415.7L1431.8 414.5L1431.9 413.4L1432.0 412.2L1432.2 411.1L1432.3 410.0L1432.5 408.9L1432.7 407.9L1432.8 406.8L1433.0 405.8L1433.2 404.8L1433.4 403.8L1433.6 402.9L1433.9 401.9L1434.1 400.9L1434.3 400.0L1434.6 399.1L1434.8 398.1L1435.1 397.2L1435.3 396.4L1435.6 395.5L1435.9 394.6L1436.2 393.8L1436.5 393.1L1436.8 392.4L1437.0 391.7L1437.4 391.0L1437.7 390.3L1438.0 389.7L1438.3 389.0L1438.7 388.4L1439.1 387.8L1439.5 387.2L1439.8 386.6L1440.2 386.1L1440.7 385.5L1441.1 385.0L1441.5 384.4L1442.0 383.9L1442.5 383.4L1443.0 382.8L1443.4 382.3L1444.0 381.8L1444.5 381.3L1445.0 380.8L1445.5 380.4L1446.0 379.9L1446.5 379.5L1446.9 379.1L1447.4 378.7L1447.9 378.4L1448.4 378.0L1448.8 377.7L1449.3 377.4L1449.8 377.1L1450.2 376.9L1450.6 376.7L1451.0 376.6L1451.5 376.4L1451.9 376.3L1452.3 376.2L1452.7 376.0L1453.1 375.9L1454.4 375.8L1455.6 375.7L1456.8 375.9L1468.5 376.9L1470.5 377.1L1472.4 377.3L1474.2 377.5L1476.0 377.8L1478.0 378.0L1480.1 378.2L1482.4 378.4L1485.1 378.7L1492.1 379.3L1500.3 380.0L1509.7 380.8L1519.8 381.6L1530.7 382.5L1542.0 383.4L1553.5 384.3L1565.0 385.2L1581.0 386.6L1598.1 388.1L1616.0 389.6L1634.5 391.2L1653.4 392.9L1672.3 394.5L1691.1 396.1L1709.4 397.7" stroke="#ff7f0e" stroke-width="4.0" fill="none" stroke-linejoin="round" stroke-linecap="square" clip-path="url(#c7)"/>
<path d="M1419.69 578.80v8.90M1535.57 578.80v8.90M1651.45 578.80v8.90M1405.20 400.00h-8.90M1405.20 469.50h-8.90M1405.20 539.00h-8.90" stroke="#000" stroke-width="2.2" fill="none"/>
<rect x="1405.20" y="366.00" width="318.70" height="212.80" fill="none" stroke="#000" stroke-width="2.2"/>
<text class="t" x="1419.64" y="614.85" text-anchor="middle">0</text>
<text class="t" x="1535.52" y="614.85" text-anchor="middle">200</text>
<text class="t" x="1651.40" y="614.85" text-anchor="middle">400</text>
<text class="t" x="1329.60" y="408.60">10</text>
<text class="s" x="1360.40" y="399.50">−5</text>
<text class="t" x="1329.60" y="478.10">10</text>
<text class="s" x="1360.40" y="469.00">−7</text>
<text class="t" x="1329.60" y="547.60">10</text>
<text class="s" x="1360.40" y="538.50">−9</text>
<text class="ti" y="349.50" xml:space="preserve"><tspan x="1408.63 1416.79 1434.76 1450.07 1465.37 1474.71 1499.32 1508.66 1527.35 1536.69 1555.38 1574.07 1592.75 1602.09">loss = 0.002, </tspan><tspan class="i" x="1611.43">δ</tspan><tspan x="1629.40 1654.01 1672.70 1682.04 1700.73">=0.08</tspan></text>
<text class="l" x="1564.45" y="655.90" text-anchor="middle">Time</text>
</g>
</svg></body></html>
